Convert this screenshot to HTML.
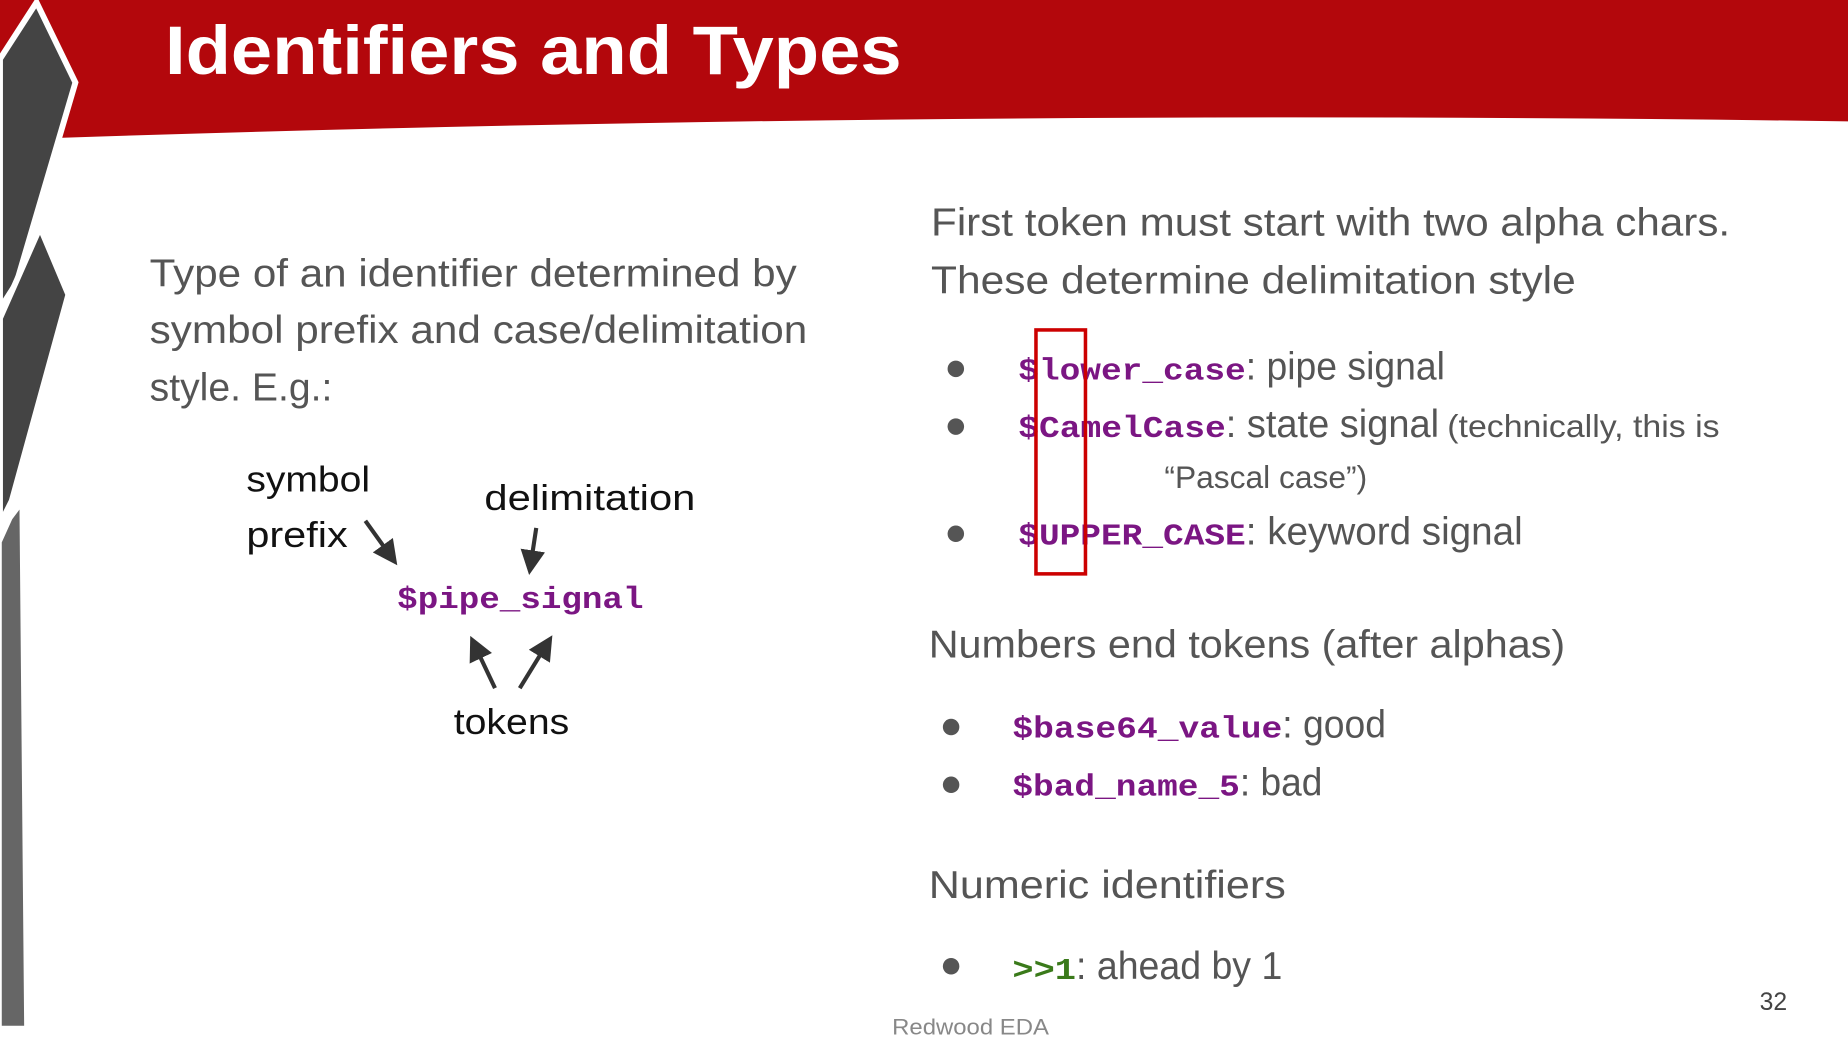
<!DOCTYPE html>
<html><head><meta charset="utf-8"><style>
html,body{margin:0;padding:0;background:#fff;}
svg{display:block;}
.t{font-family:"Liberation Sans",sans-serif;fill:#555;}
.m{font-family:"Liberation Mono",monospace;font-weight:bold;fill:#7b1683;}
.k{font-family:"Liberation Sans",sans-serif;fill:#111;}
</style></head><body>
<svg width="1848" height="1057" viewBox="0 0 1568 897" preserveAspectRatio="none" xmlns="http://www.w3.org/2000/svg">
<rect width="1568" height="897" fill="#fff"/>
<path d="M0,0 H1568 V103 Q800,92 50,117 L0,117 Z" fill="#b3070c"/>
<text x="140" y="63" font-family="Liberation Sans,sans-serif" font-weight="bold" font-size="58" fill="#fff" textLength="625" lengthAdjust="spacingAndGlyphs">Identifiers and Types</text>
<!-- left shapes -->
<polygon points="31,2 64,70 14,240 0,262 0,50" fill="#444" stroke="#fff" stroke-width="5"/>
<polygon points="34,193 58,250 10,425 0,445 0,270" fill="#444" stroke="#fff" stroke-width="5"/>
<polygon points="9,440 18,428 22,872 0,872 0,460" fill="#666" stroke="#fff" stroke-width="3"/>
<!-- left paragraph -->
<text class="t" x="127" y="243" font-size="33" textLength="549" lengthAdjust="spacingAndGlyphs">Type of an identifier determined by</text>
<text class="t" x="127" y="291" font-size="33" textLength="558" lengthAdjust="spacingAndGlyphs">symbol prefix and case/delimitation</text>
<text class="t" x="127" y="340" font-size="33" textLength="155" lengthAdjust="spacingAndGlyphs">style. E.g.:</text>
<!-- diagram -->
<text class="k" x="209" y="417" font-size="31" textLength="105" lengthAdjust="spacingAndGlyphs">symbol</text>
<text class="k" x="209" y="464" font-size="31" textLength="86" lengthAdjust="spacingAndGlyphs">prefix</text>
<text class="k" x="411" y="433" font-size="31" textLength="179" lengthAdjust="spacingAndGlyphs">delimitation</text>
<text class="k" x="385" y="623" font-size="31" textLength="98" lengthAdjust="spacingAndGlyphs">tokens</text>
<text class="m" x="337" y="516" font-size="26" textLength="209" lengthAdjust="spacingAndGlyphs">$pipe_signal</text>
<defs><marker id="a" markerWidth="6" markerHeight="6" refX="4" refY="3" orient="auto" markerUnits="strokeWidth"><path d="M0,0 L6,3 L0,6 Z" fill="#333"/></marker></defs>
<g stroke="#333" stroke-width="3.5" marker-end="url(#a)">
<line x1="310" y1="442" x2="333" y2="474"/>
<line x1="455" y1="448" x2="450" y2="481"/>
<line x1="420" y1="584" x2="402" y2="546"/>
<line x1="441" y1="584" x2="465" y2="545"/>
</g>
<!-- right -->
<text class="t" x="790" y="200" font-size="33" textLength="678" lengthAdjust="spacingAndGlyphs">First token must start with two alpha chars.</text>
<text class="t" x="790" y="249" font-size="33" textLength="547" lengthAdjust="spacingAndGlyphs">These determine delimitation style</text>
<g fill="#555"><circle cx="811" cy="313" r="7"/><circle cx="811" cy="362" r="7"/><circle cx="811" cy="453" r="7"/>
<circle cx="807" cy="617" r="7"/><circle cx="807" cy="666" r="7"/><circle cx="807" cy="820" r="7"/></g>
<text class="m" x="864" y="322" font-size="26" textLength="193" lengthAdjust="spacingAndGlyphs">$lower_case</text>
<text class="t" x="1057" y="322" font-size="33" textLength="169" lengthAdjust="spacingAndGlyphs">: pipe signal</text>
<text class="m" x="864" y="371" font-size="26" textLength="176" lengthAdjust="spacingAndGlyphs">$CamelCase</text>
<text class="t" x="1040" y="371" font-size="33" textLength="181" lengthAdjust="spacingAndGlyphs">: state signal</text>
<text class="t" x="1228" y="371" font-size="27" textLength="231" lengthAdjust="spacingAndGlyphs">(technically, this is</text>
<text class="t" x="988" y="414" font-size="27" textLength="172" lengthAdjust="spacingAndGlyphs">“Pascal case”)</text>
<text class="m" x="864" y="462" font-size="26" textLength="193" lengthAdjust="spacingAndGlyphs">$UPPER_CASE</text>
<text class="t" x="1057" y="462" font-size="33" textLength="235" lengthAdjust="spacingAndGlyphs">: keyword signal</text>
<rect x="879" y="280" width="42" height="207" fill="none" stroke="#c00" stroke-width="3"/>
<text class="t" x="788" y="558" font-size="33" textLength="540" lengthAdjust="spacingAndGlyphs">Numbers end tokens (after alphas)</text>
<text class="m" x="859" y="626" font-size="26" textLength="229" lengthAdjust="spacingAndGlyphs">$base64_value</text>
<text class="t" x="1088" y="626" font-size="33" textLength="88" lengthAdjust="spacingAndGlyphs">: good</text>
<text class="m" x="859" y="675" font-size="26" textLength="193" lengthAdjust="spacingAndGlyphs">$bad_name_5</text>
<text class="t" x="1052" y="675" font-size="33" textLength="70" lengthAdjust="spacingAndGlyphs">: bad</text>
<text class="t" x="788" y="762" font-size="33" textLength="303" lengthAdjust="spacingAndGlyphs">Numeric identifiers</text>
<text class="m" x="859" y="831" font-size="26" textLength="54" lengthAdjust="spacingAndGlyphs" style="fill:#3a7a1a">&gt;&gt;1</text>
<text class="t" x="913" y="831" font-size="33" textLength="175" lengthAdjust="spacingAndGlyphs">: ahead by 1</text>
<text x="1493" y="857" font-family="Liberation Sans,sans-serif" font-size="21" fill="#444">32</text>
<text x="757" y="878" font-family="Liberation Sans,sans-serif" font-size="19" fill="#888" textLength="133" lengthAdjust="spacingAndGlyphs">Redwood EDA</text>
</svg>
</body></html>
